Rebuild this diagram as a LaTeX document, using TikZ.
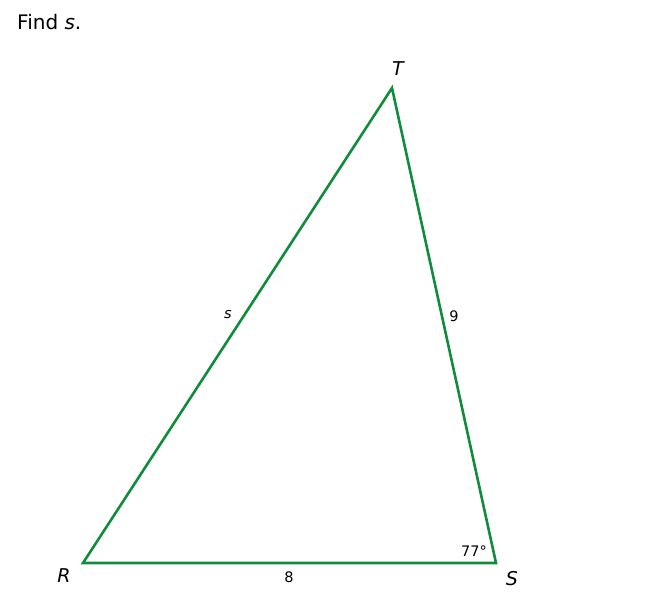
\documentclass[tikz,border=0pt]{standalone}
\usepackage{fontspec}
\setmainfont{DejaVu Sans}
\definecolor{tri}{RGB}{16,140,60}
\begin{document}
\begin{tikzpicture}[x=1pt,y=-1pt,
  side/.style={draw=tri,line width=2.6pt,line join=miter},
  vlab/.style={font=\fontsize{19}{22}\selectfont\itshape,inner sep=0pt},
  slab/.style={font=\fontsize{14.5}{17}\selectfont,inner sep=0pt}]
\useasboundingbox (0,0) rectangle (655,607);
\node[anchor=west,inner sep=0pt,font=\fontsize{20}{24}\selectfont] (title) at (17,22) {Find \textit{s}.};
\coordinate (T) at (392,88);
\coordinate (R) at (83,563);
\coordinate (S) at (496,563);
\draw[side] (T) -- (S) -- (R) -- cycle;
\node[vlab] (tl) at (398,69) {T};
\node[vlab] (rl) at (64,576) {R};
\node[vlab] (sl) at (512,579) {S};
\node[slab,font=\fontsize{14.5}{17}\selectfont\itshape] (sidelab) at (228,315) {s};
\node[slab] (ninelab) at (454,316) {9};
\node[slab] (eightlab) at (289,577) {8};
\node[slab] (anglab) at (474,551) {77°};
\end{tikzpicture}
\end{document}
